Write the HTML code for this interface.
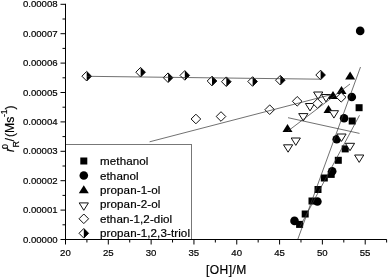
<!DOCTYPE html>
<html><head><meta charset="utf-8"><title>chart</title>
<style>
html,body{margin:0;padding:0;background:#fff;}
body{width:388px;height:278px;overflow:hidden;}
svg{display:block;font-family:"Liberation Sans",Arial,sans-serif;fill:#000;}
text{stroke:#000;stroke-width:0.2px;}
</style></head><body>
<svg width="388" height="278" viewBox="0 0 388 278">
<rect width="388" height="278" fill="#fff"/>
<rect x="65.5" y="144.5" width="126.0" height="95.0" fill="#fff" stroke="#777" stroke-width="1"/>
<g stroke="#000" stroke-width="1" fill="none">
<line x1="65.5" y1="3.8" x2="65.5" y2="240.0"/>
<line x1="65.0" y1="239.5" x2="386.8" y2="239.5"/>
<line x1="60.5" y1="239.50" x2="65.5" y2="239.50"/>
<line x1="62.5" y1="224.80" x2="65.5" y2="224.80"/>
<line x1="60.5" y1="210.10" x2="65.5" y2="210.10"/>
<line x1="62.5" y1="195.40" x2="65.5" y2="195.40"/>
<line x1="60.5" y1="180.70" x2="65.5" y2="180.70"/>
<line x1="62.5" y1="166.00" x2="65.5" y2="166.00"/>
<line x1="60.5" y1="151.30" x2="65.5" y2="151.30"/>
<line x1="62.5" y1="136.60" x2="65.5" y2="136.60"/>
<line x1="60.5" y1="121.90" x2="65.5" y2="121.90"/>
<line x1="62.5" y1="107.20" x2="65.5" y2="107.20"/>
<line x1="60.5" y1="92.50" x2="65.5" y2="92.50"/>
<line x1="62.5" y1="77.80" x2="65.5" y2="77.80"/>
<line x1="60.5" y1="63.10" x2="65.5" y2="63.10"/>
<line x1="62.5" y1="48.40" x2="65.5" y2="48.40"/>
<line x1="60.5" y1="33.70" x2="65.5" y2="33.70"/>
<line x1="62.5" y1="19.00" x2="65.5" y2="19.00"/>
<line x1="60.5" y1="4.30" x2="65.5" y2="4.30"/>
<line x1="65.50" y1="239.5" x2="65.50" y2="244.5"/>
<line x1="86.91" y1="239.5" x2="86.91" y2="242.5"/>
<line x1="108.31" y1="239.5" x2="108.31" y2="244.5"/>
<line x1="129.72" y1="239.5" x2="129.72" y2="242.5"/>
<line x1="151.13" y1="239.5" x2="151.13" y2="244.5"/>
<line x1="172.54" y1="239.5" x2="172.54" y2="242.5"/>
<line x1="193.95" y1="239.5" x2="193.95" y2="244.5"/>
<line x1="215.35" y1="239.5" x2="215.35" y2="242.5"/>
<line x1="236.76" y1="239.5" x2="236.76" y2="244.5"/>
<line x1="258.17" y1="239.5" x2="258.17" y2="242.5"/>
<line x1="279.58" y1="239.5" x2="279.58" y2="244.5"/>
<line x1="300.98" y1="239.5" x2="300.98" y2="242.5"/>
<line x1="322.39" y1="239.5" x2="322.39" y2="244.5"/>
<line x1="343.80" y1="239.5" x2="343.80" y2="242.5"/>
<line x1="365.21" y1="239.5" x2="365.21" y2="244.5"/>
<line x1="386.61" y1="239.5" x2="386.61" y2="242.5"/>
</g>
<g font-size="9.6px" text-anchor="end">
<text x="57.6" y="242.50">0.00000</text>
<text x="57.6" y="213.10">0.00001</text>
<text x="57.6" y="183.70">0.00002</text>
<text x="57.6" y="154.30">0.00003</text>
<text x="57.6" y="124.90">0.00004</text>
<text x="57.6" y="95.50">0.00005</text>
<text x="57.6" y="66.10">0.00006</text>
<text x="57.6" y="36.70">0.00007</text>
<text x="57.6" y="7.30">0.00008</text>
</g>
<g font-size="9.6px" text-anchor="middle">
<text x="65.40" y="256">20</text>
<text x="108.22" y="256">25</text>
<text x="151.03" y="256">30</text>
<text x="193.85" y="256">35</text>
<text x="236.66" y="256">40</text>
<text x="279.48" y="256">45</text>
<text x="322.29" y="256">50</text>
<text x="365.11" y="256">55</text>
</g>
<text x="206" y="274" font-size="12px" letter-spacing="0.45">[OH]/M</text>
<g transform="translate(14,152) rotate(-90)" font-size="12.2px"><text x="0" y="0" font-style="italic">r</text><text x="2.95" y="-6.2" font-size="8.8px">0</text><text x="4.5" y="5.4" font-size="8.8px">R</text><text x="10.6" y="0">/</text><text x="15" y="0">(</text><text x="19" y="0">M</text><text x="29.2" y="0">s</text><text x="34.9" y="-7" font-size="8.8px">-1</text><text x="42.4" y="0">)</text></g>
<rect x="296.10" y="220.90" width="7.0" height="7.0" fill="#000"/>
<rect x="301.70" y="210.50" width="7.0" height="7.0" fill="#000"/>
<rect x="308.50" y="197.50" width="7.0" height="7.0" fill="#000"/>
<rect x="314.50" y="186.00" width="7.0" height="7.0" fill="#000"/>
<rect x="320.80" y="174.50" width="7.0" height="7.0" fill="#000"/>
<rect x="327.70" y="170.90" width="7.0" height="7.0" fill="#000"/>
<rect x="334.80" y="156.80" width="7.0" height="7.0" fill="#000"/>
<rect x="341.70" y="145.40" width="7.0" height="7.0" fill="#000"/>
<rect x="348.70" y="117.50" width="7.0" height="7.0" fill="#000"/>
<rect x="355.60" y="104.20" width="7.0" height="7.0" fill="#000"/>
<circle cx="294.50" cy="220.90" r="4.3" fill="#000"/>
<circle cx="317.40" cy="201.50" r="4.3" fill="#000"/>
<circle cx="332.20" cy="171.20" r="4.3" fill="#000"/>
<circle cx="336.70" cy="139.30" r="4.3" fill="#000"/>
<circle cx="344.10" cy="118.20" r="4.3" fill="#000"/>
<circle cx="351.80" cy="97.00" r="4.3" fill="#000"/>
<circle cx="360.20" cy="30.90" r="4.3" fill="#000"/>
<polygon points="282.50,132.10 292.50,132.10 287.50,124.10" fill="#000"/>
<polygon points="323.50,113.10 333.50,113.10 328.50,105.10" fill="#000"/>
<polygon points="328.00,99.00 338.00,99.00 333.00,91.00" fill="#000"/>
<polygon points="336.50,94.10 346.50,94.10 341.50,86.10" fill="#000"/>
<polygon points="345.10,79.50 355.10,79.50 350.10,71.50" fill="#000"/>
<polygon points="283.50,144.80 292.70,144.80 288.10,152.20" fill="#fff" stroke="#111" stroke-width="1"/>
<polygon points="291.20,138.00 300.40,138.00 295.80,145.40" fill="#fff" stroke="#111" stroke-width="1"/>
<polygon points="298.70,113.60 307.90,113.60 303.30,121.00" fill="#fff" stroke="#111" stroke-width="1"/>
<polygon points="305.40,103.50 314.60,103.50 310.00,110.90" fill="#fff" stroke="#111" stroke-width="1"/>
<polygon points="313.60,92.00 322.80,92.00 318.20,99.40" fill="#fff" stroke="#111" stroke-width="1"/>
<polygon points="321.40,94.50 330.60,94.50 326.00,101.90" fill="#fff" stroke="#111" stroke-width="1"/>
<polygon points="329.30,110.70 338.50,110.70 333.90,118.10" fill="#fff" stroke="#111" stroke-width="1"/>
<polygon points="336.90,134.00 346.10,134.00 341.50,141.40" fill="#fff" stroke="#111" stroke-width="1"/>
<polygon points="345.40,143.30 354.60,143.30 350.00,150.70" fill="#fff" stroke="#111" stroke-width="1"/>
<polygon points="354.60,155.00 363.80,155.00 359.20,162.40" fill="#fff" stroke="#111" stroke-width="1"/>
<polygon points="191.10,119.00 195.90,114.20 200.70,119.00 195.90,123.80" fill="#fff" stroke="#111" stroke-width="1"/>
<polygon points="216.20,116.50 221.00,111.70 225.80,116.50 221.00,121.30" fill="#fff" stroke="#111" stroke-width="1"/>
<polygon points="264.90,109.70 269.70,104.90 274.50,109.70 269.70,114.50" fill="#fff" stroke="#111" stroke-width="1"/>
<polygon points="292.40,101.30 297.20,96.50 302.00,101.30 297.20,106.10" fill="#fff" stroke="#111" stroke-width="1"/>
<polygon points="312.70,103.50 317.50,98.70 322.30,103.50 317.50,108.30" fill="#fff" stroke="#111" stroke-width="1"/>
<polygon points="336.40,97.30 341.20,92.50 346.00,97.30 341.20,102.10" fill="#fff" stroke="#111" stroke-width="1"/>
<polygon points="81.90,76.20 86.70,71.40 91.50,76.20 86.70,81.00" fill="#fff" stroke="#111" stroke-width="1"/><polygon points="86.70,71.40 91.50,76.20 86.70,81.00" fill="#000"/>
<polygon points="135.80,72.20 140.60,67.40 145.40,72.20 140.60,77.00" fill="#fff" stroke="#111" stroke-width="1"/><polygon points="140.60,67.40 145.40,72.20 140.60,77.00" fill="#000"/>
<polygon points="163.30,77.70 168.10,72.90 172.90,77.70 168.10,82.50" fill="#fff" stroke="#111" stroke-width="1"/><polygon points="168.10,72.90 172.90,77.70 168.10,82.50" fill="#000"/>
<polygon points="180.00,75.40 184.80,70.60 189.60,75.40 184.80,80.20" fill="#fff" stroke="#111" stroke-width="1"/><polygon points="184.80,70.60 189.60,75.40 184.80,80.20" fill="#000"/>
<polygon points="207.20,81.00 212.00,76.20 216.80,81.00 212.00,85.80" fill="#fff" stroke="#111" stroke-width="1"/><polygon points="212.00,76.20 216.80,81.00 212.00,85.80" fill="#000"/>
<polygon points="221.50,81.70 226.30,76.90 231.10,81.70 226.30,86.50" fill="#fff" stroke="#111" stroke-width="1"/><polygon points="226.30,76.90 231.10,81.70 226.30,86.50" fill="#000"/>
<polygon points="247.80,81.50 252.60,76.70 257.40,81.50 252.60,86.30" fill="#fff" stroke="#111" stroke-width="1"/><polygon points="252.60,76.70 257.40,81.50 252.60,86.30" fill="#000"/>
<polygon points="275.50,80.20 280.30,75.40 285.10,80.20 280.30,85.00" fill="#fff" stroke="#111" stroke-width="1"/><polygon points="280.30,75.40 285.10,80.20 280.30,85.00" fill="#000"/>
<polygon points="315.80,75.00 320.60,70.20 325.40,75.00 320.60,79.80" fill="#fff" stroke="#111" stroke-width="1"/><polygon points="320.60,70.20 325.40,75.00 320.60,79.80" fill="#000"/>
<g stroke="#333" stroke-width="0.7" fill="none">
<line x1="297.9" y1="239" x2="360.5" y2="67"/>
<line x1="300" y1="226.5" x2="359.5" y2="115.3"/>
<line x1="288" y1="131" x2="350" y2="84"/>
<line x1="288" y1="117.7" x2="359.5" y2="133.4"/>
<line x1="149.6" y1="141.8" x2="331" y2="94.7"/>
<line x1="87" y1="76.3" x2="320.6" y2="79.2"/>
</g>
<rect x="80.30" y="157.50" width="7.0" height="7.0" fill="#000"/>
<circle cx="83.80" cy="175.50" r="4.3" fill="#000"/>
<polygon points="78.80,193.20 88.80,193.20 83.80,185.20" fill="#000"/>
<polygon points="79.20,202.90 88.40,202.90 83.80,210.30" fill="#fff" stroke="#111" stroke-width="1"/>
<polygon points="79.00,218.80 83.80,214.00 88.60,218.80 83.80,223.60" fill="#fff" stroke="#111" stroke-width="1"/>
<polygon points="79.00,233.30 83.80,228.50 88.60,233.30 83.80,238.10" fill="#fff" stroke="#111" stroke-width="1"/><polygon points="83.80,228.50 88.60,233.30 83.80,238.10" fill="#000"/>
<g font-size="11.6px" letter-spacing="0.1">
<text x="100" y="165.40">methanol</text>
<text x="100" y="179.70">ethanol</text>
<text x="100" y="194.00">propan-1-ol</text>
<text x="100" y="208.30">propan-2-ol</text>
<text x="100" y="222.60">ethan-1,2-diol</text>
<text x="100" y="236.90">propan-1,2,3-triol</text>
</g>
</svg></body></html>
